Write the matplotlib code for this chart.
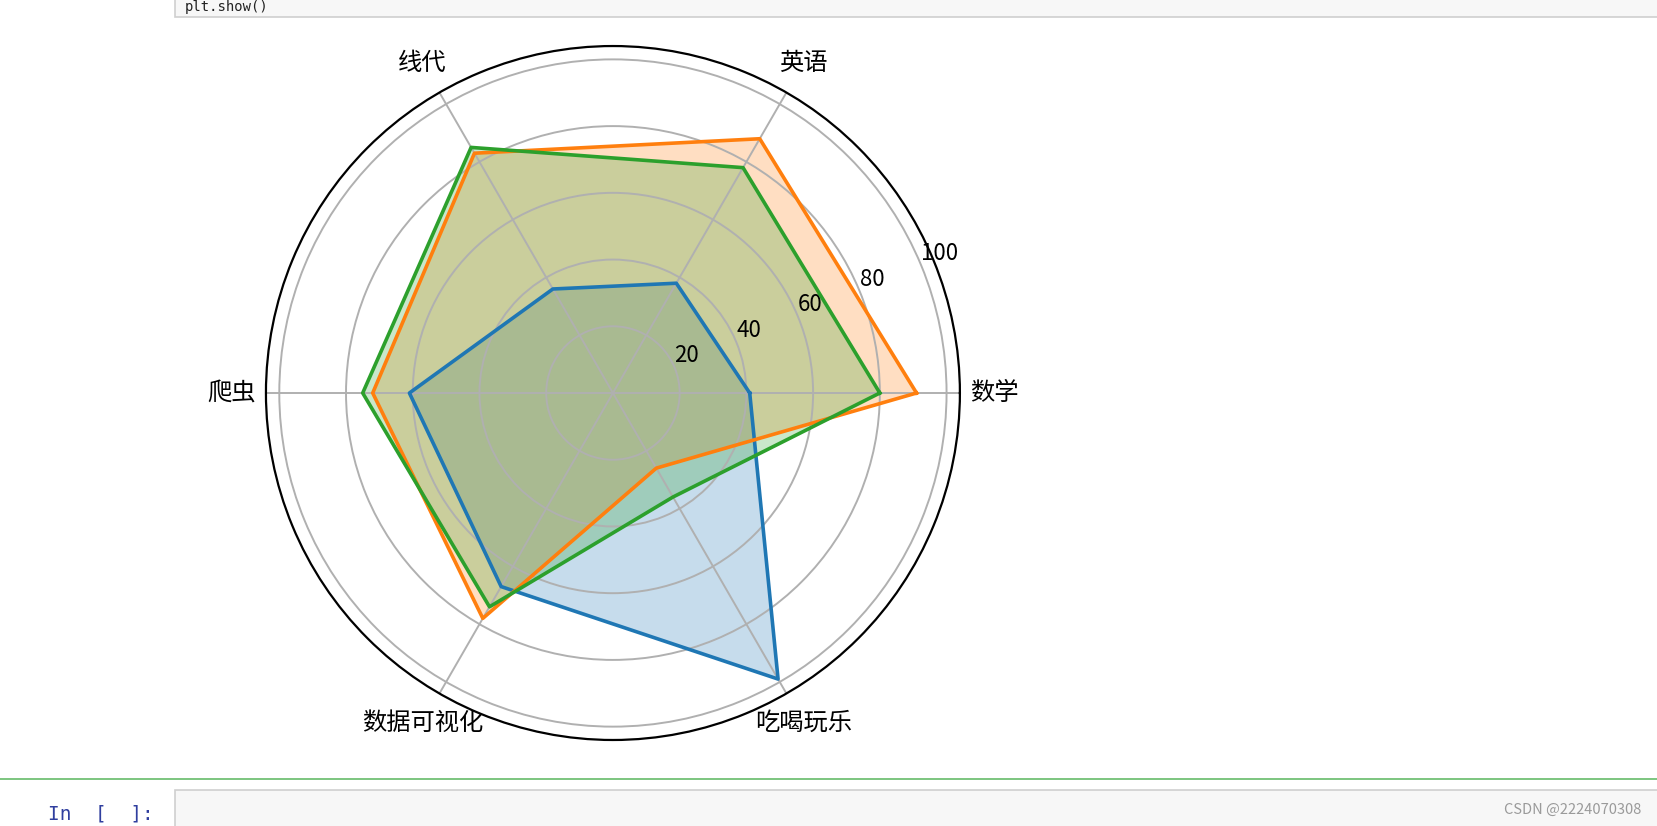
import numpy as np
import matplotlib
matplotlib.use("Agg")
import matplotlib.pyplot as plt
from matplotlib.patches import Rectangle

# Data:
categories = ['数学', '英语', '线代', '爬虫', '数据可视化', '吃喝玩乐']
scores_blue = [41, 38, 36, 61, 67, 99]
scores_orange = [91, 88, 83, 72, 78, 26]
scores_green = [80, 78, 85, 75, 74, 36]
radial_ticks = [20, 40, 60, 80, 100]


def main():
    """Radar chart inside a notebook-like frame."""

    plt.rcParams['font.family'] = ['Noto Sans CJK SC', 'DejaVu Sans']

    fig = plt.figure(figsize=(16.57, 8.26), dpi=100)
    fig.patch.set_facecolor('white')

    # Notebook decorations:
    fig.patches.append(Rectangle((175 / 1657, 1 - 17 / 826), 1.0, 0.05,
                                 transform=fig.transFigure, facecolor='#f7f7f7',
                                 edgecolor='#cfcfcf', linewidth=1.2))
    fig.text(185 / 1657, 1 - 7 / 826, 'plt.show()', family='DejaVu Sans Mono',
             fontsize=10, va='center', color='#222222')
    fig.lines.append(plt.Line2D([0, 1], [1 - 779 / 826] * 2, transform=fig.transFigure,
                                color='#66bb6a', linewidth=1.2))
    fig.patches.append(Rectangle((175 / 1657, -0.05), 1.0, 0.05 + 36 / 826,
                                 transform=fig.transFigure, facecolor='#f7f7f7',
                                 edgecolor='#cfcfcf', linewidth=1.2))
    fig.text(48 / 1657, 1 - 814 / 826, 'In  [  ]:', family='DejaVu Sans Mono',
             fontsize=14, va='center', color='#303f9f')
    fig.text(1641 / 1657, 1 - 810 / 826, 'CSDN @2224070308', fontsize=10.5,
             ha='right', va='center', color='#9a9a9a')

    # Polar axes:
    ax = fig.add_axes([0.1605, 0.1041, 0.4188, 0.8402], projection='polar')

    n = len(categories)
    angles = np.linspace(0, 2 * np.pi, n, endpoint=False)
    closed = np.concatenate([angles, angles[:1]])

    for values, color in [(scores_blue, '#1f77b4'),
                          (scores_orange, '#ff7f0e'),
                          (scores_green, '#2ca02c')]:
        vals = np.concatenate([values, values[:1]])
        ax.plot(closed, vals, color=color, linewidth=2.6)
        ax.fill(closed, vals, color=color, alpha=0.25)

    ax.set_thetagrids(np.degrees(angles), categories, fontsize=17.5)
    ax.set_ylim(0, 104)
    ax.set_yticks(radial_ticks)
    ax.set_yticklabels([str(t) for t in radial_ticks], fontsize=16)
    ax.set_rlabel_position(22.5)
    ax.grid(color='#b0b0b0', linewidth=1.4)
    ax.spines['polar'].set_linewidth(1.6)
    ax.tick_params(axis='x', pad=14)

    fig.savefig('out.png', dpi=100)


# Main:
if __name__ == "__main__":
    main()
